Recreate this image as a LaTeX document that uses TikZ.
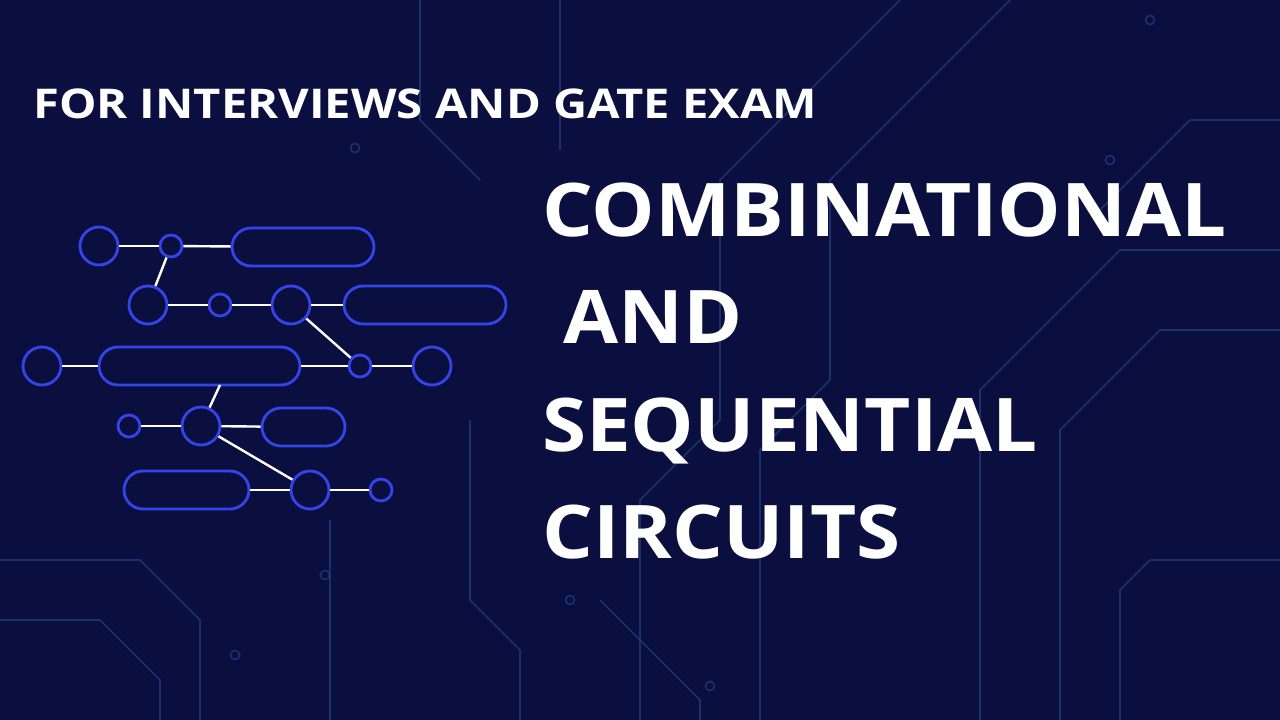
\documentclass[tikz,border=0pt]{standalone}
\usepackage{fontspec}
\setmainfont{Open Sans}
\definecolor{bg}{HTML}{0A0F40}
\definecolor{gb}{HTML}{3344E8}
\definecolor{tr}{HTML}{1E3A78}
\begin{document}
\begin{tikzpicture}[x=1pt,y=-1pt,
 big/.style={circle,draw=gb,line width=2.8pt,fill=bg,minimum size=38pt,inner sep=0},
 sml/.style={circle,draw=gb,line width=2.8pt,fill=bg,minimum size=22pt,inner sep=0},
 pill/.style={rounded corners=19pt,draw=gb,line width=2.8pt,fill=bg,minimum height=38pt,inner sep=0},
 wl/.style={white,line width=2.4pt},
 trace/.style={tr,line width=1.6pt,opacity=0.8},
 pad/.style={circle,draw=tr,line width=1.6pt,minimum size=9pt,inner sep=0,opacity=0.8},
 txt/.style={anchor=base west,inner sep=0,text=white}]
\fill[bg] (0,0) rectangle (1280,720);
\useasboundingbox (0,0) rectangle (1280,720);
% background traces
\draw[trace] (900,0) -- (720,180) -- (720,420) -- (640,500) -- (640,720);
\draw[trace] (1010,0) -- (830,180) -- (830,380) -- (760,450) -- (760,720);
\draw[trace] (1280,250) -- (1120,250) -- (980,390) -- (980,720);
\draw[trace] (1280,330) -- (1160,330) -- (1060,430) -- (1060,720);
\draw[trace] (1280,560) -- (1150,560) -- (1120,590) -- (1120,720);
\draw[trace] (1280,120) -- (1190,120) -- (1100,210);
\draw[trace] (560,0) -- (560,150);
\draw[trace] (0,560) -- (140,560) -- (200,620) -- (200,720);
\draw[trace] (0,620) -- (100,620) -- (160,680) -- (160,720);
\draw[trace] (420,0) -- (420,120) -- (480,180);
\draw[trace] (470,420) -- (470,600) -- (520,650) -- (520,720);
\draw[trace] (330,520) -- (330,720);
\draw[trace] (600,600) -- (700,700) -- (700,720);
\node[pad] at (1150,20) {};
\node[pad] at (355,148) {};
\node[pad] at (710,686) {};
\node[pad] at (235,655) {};
\node[pad] at (325,575) {};
\node[pad] at (570,600) {};
\node[pad] at (1110,160) {};
% graph
\node[big] (a1) at (99,246) {};
\node[sml] (a2) at (171,246) {};
\node[pill,minimum width=142pt] (a3) at (303,247) {};
\node[big] (b1) at (148,305) {};
\node[sml] (b2) at (220,305) {};
\node[big] (b3) at (291,305) {};
\node[pill,minimum width=162pt] (b4) at (425,305) {};
\node[big] (c1) at (42,366) {};
\node[pill,minimum width=201pt] (c2) at (199.5,366) {};
\node[sml] (c3) at (360,366) {};
\node[big] (c4) at (432,366) {};
\node[sml] (d1) at (129,426) {};
\node[big] (d2) at (201,426) {};
\node[pill,minimum width=83pt] (d3) at (303.5,427) {};
\node[pill,minimum width=125pt] (e1) at (186.5,490) {};
\node[big] (e2) at (310,490) {};
\node[sml] (e3) at (381,490) {};
\coordinate (cb) at (220,385);
\draw[wl] (a1) -- (a2); \draw[wl] (a2) -- (a3); \draw[wl] (a2) -- (b1);
\draw[wl] (b1) -- (b2); \draw[wl] (b2) -- (b3); \draw[wl] (b3) -- (b4); \draw[wl] (b3) -- (c3);
\draw[wl] (c1) -- (c2); \draw[wl] (c2) -- (c3); \draw[wl] (c3) -- (c4);
\draw[wl] (cb) -- (d2);
\draw[wl] (d1) -- (d2); \draw[wl] (d2) -- (d3); \draw[wl] (d2) -- (e2);
\draw[wl] (e1) -- (e2); \draw[wl] (e2) -- (e3);
% text
\node[txt,font=\bfseries\fontsize{41}{41}\selectfont] (t0) at (33,118) {\scalebox{1.15}[1]{FOR INTERVIEWS AND GATE EXAM}};
\node[txt,font=\bfseries\fontsize{74}{74}\selectfont] (t1) at (542,236) {\scalebox{1.08}[1]{COMBINATIONAL}};
\node[txt,font=\bfseries\fontsize{74}{74}\selectfont] (t2) at (563,343) {\scalebox{1.08}[1]{AND}};
\node[txt,font=\bfseries\fontsize{74}{74}\selectfont] (t3) at (542,451) {\scalebox{1.08}[1]{SEQUENTIAL}};
\node[txt,font=\bfseries\fontsize{74}{74}\selectfont] (t4) at (542,558) {\scalebox{1.08}[1]{CIRCUITS}};
\end{tikzpicture}
\end{document}
